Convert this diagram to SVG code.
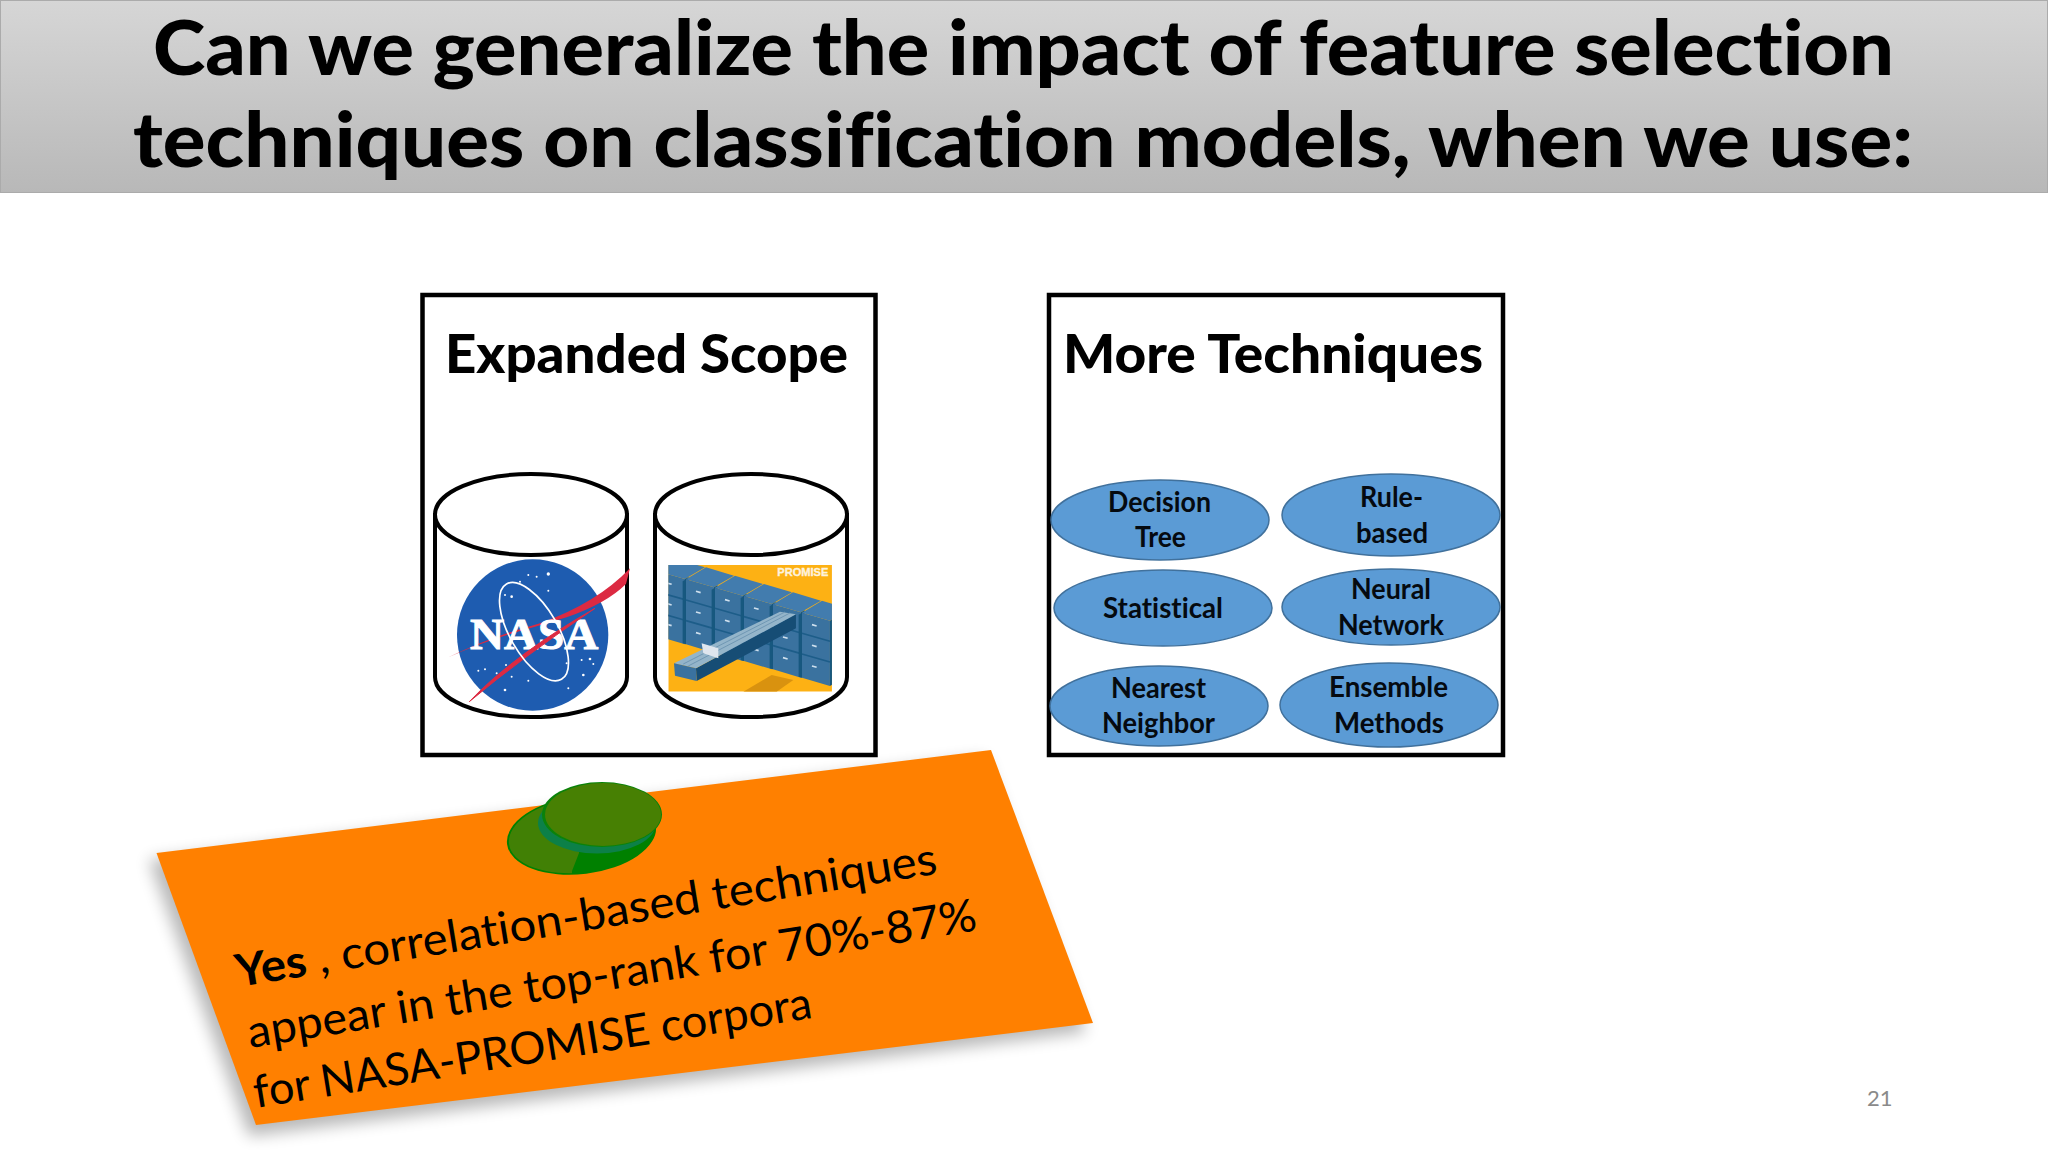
<svg xmlns="http://www.w3.org/2000/svg" width="2048" height="1152" viewBox="0 0 2048 1152">
<style>
text{font-family:"Lato","Open Sans","Liberation Sans",sans-serif;fill:#000;font-variant-ligatures:none}
.title{font-size:76px;font-weight:900}
.head{font-size:53px;font-weight:900}
.e{fill:#5b9bd5;stroke:#41719c;stroke-width:1.5}
.et{font-size:28px;font-weight:700;fill:#050a10}
.box{fill:#fff;stroke:#000;stroke-width:4.5}
.cyl{fill:#fff;stroke:#000;stroke-width:4}
.note{font-size:45px;font-weight:400}
.front{fill:#3a729f}.top{fill:#427cae}.side{fill:#17587f}
</style>
<defs>
<linearGradient id="band" x1="0" y1="0" x2="0" y2="1"><stop offset="0" stop-color="#d6d6d6"/><stop offset="1" stop-color="#b8b8b8"/></linearGradient>
<filter id="blur" x="-10%" y="-20%" width="120%" height="140%"><feGaussianBlur stdDeviation="8"/></filter>
<clipPath id="pic"><rect x="745" y="315" width="491" height="380"/></clipPath>
<clipPath id="pinclip"><ellipse cx="581.5" cy="835" rx="73" ry="37.5" transform="rotate(-7 581.5 835)"/></clipPath>
<g id="cab">
<polygon class="front" points="798,358 882,382 882,578 798,553"/>
<polygon class="top" points="798,358 858,322 942,347 882,382"/>
<polygon class="side" points="882,382 893,376 893,572 882,578"/>
<polygon class="side" points="798,358 788,364 788,550 798,553"/>
<path d="M798,420 L882,444 M798,482 L882,506" stroke="#1d5d89" stroke-width="5" fill="none"/>
<path d="M828,394 l14,4 M828,456 l14,4 M828,518 l14,4" stroke="#cfe0ee" stroke-width="5" fill="none"/>
</g>
</defs>

<rect width="2048" height="1152" fill="#fff"/>

<g id="title-band">
<rect x="0.5" y="0.5" width="2047" height="192" fill="url(#band)" stroke="#ababab"/>
<text class="title" x="153" y="75" textLength="1741" lengthAdjust="spacingAndGlyphs">Can we generalize the impact of feature selection</text>
<text class="title" x="133" y="167" textLength="1780" lengthAdjust="spacingAndGlyphs">techniques on classification models, when we use:</text>
</g>

<g id="expanded-scope">
<rect class="box" x="422.5" y="295" width="453" height="460"/>
<text class="head" x="445" y="373" textLength="403" lengthAdjust="spacingAndGlyphs">Expanded Scope</text>
<g id="cylinder-nasa">
<path class="cyl" d="M435,515 V677 A96,40 0 0 0 627,677 V515 Z"/>
<ellipse class="cyl" cx="531" cy="514.5" rx="96" ry="40.5"/>
<g transform="translate(420,460) scale(0.3333)">
<circle cx="338" cy="525" r="227" fill="#1e5cb0"/>
<g fill="#fff"><circle cx="385" cy="342" r="5"/><circle cx="350" cy="350" r="3"/><circle cx="325" cy="345" r="3"/><circle cx="300" cy="365" r="3"/><circle cx="385" cy="392" r="3"/><circle cx="275" cy="410" r="4"/><circle cx="255" cy="405" r="3"/><circle cx="195" cy="628" r="3"/><circle cx="175" cy="632" r="3"/><circle cx="258" cy="615" r="3"/><circle cx="275" cy="650" r="3"/><circle cx="255" cy="690" r="4"/><circle cx="325" cy="662" r="3"/><circle cx="440" cy="610" r="3"/><circle cx="490" cy="645" r="4"/><circle cx="510" cy="597" r="4"/><circle cx="485" cy="600" r="3"/><circle cx="445" cy="685" r="3"/><circle cx="520" cy="612" r="3"/><circle cx="230" cy="640" r="3"/></g>
<path d="M85,592 Q205,535 300,508 L360,490 Q530,430 630,325 L618,372 Q560,430 440,472 L345,500 Q200,540 85,592 Z" fill="#dc2a42"/>
<text x="150" y="568" textLength="385" lengthAdjust="spacingAndGlyphs" style="font-family:'Liberation Serif',serif;font-weight:700;font-size:136px;fill:#fff;stroke:#fff;stroke-width:3">NASA</text>
<path d="M148,725 Q280,585 525,445 Q310,590 148,725 Z" fill="#dc2a42" stroke="#dc2a42" stroke-width="3"/>
<ellipse cx="342" cy="515" rx="72" ry="165" transform="rotate(-30 342 515)" fill="none" stroke="#fff" stroke-width="5"/>
</g>
</g>
<g id="cylinder-promise">
<path class="cyl" d="M655,515 V677 A96,40 0 0 0 847,677 V515 Z"/>
<ellipse class="cyl" cx="751" cy="514.5" rx="96" ry="40.5"/>
<g transform="translate(420,460) scale(0.3333)">
<g clip-path="url(#pic)">
<rect x="745" y="315" width="491" height="380" fill="#fdb114"/>
<polygon points="970,695 1055,645 1120,660 1070,695" fill="#d9920f"/>
<use href="#cab" x="-87" y="-25"/>
<use href="#cab" x="0" y="0"/>
<use href="#cab" x="87" y="25"/>
<use href="#cab" x="174" y="50"/>
<use href="#cab" x="261" y="75"/>
<use href="#cab" x="348" y="100"/>
<polygon points="828,625 1128,463 1128,505 830,663" fill="#164d75"/>
<polygon points="762,610 1080,455 1128,463 828,625" fill="#94b5ca"/>
<path d="M790,612 L1095,456 M805,618 L1110,459" stroke="#6f97b3" stroke-width="3" fill="none"/>
<polygon points="762,610 828,625 830,663 765,647" fill="#3a729f"/>
<polygon points="845,550 895,565 895,595 850,580" fill="#dfe6ee"/>
</g>
<text x="1072" y="348" textLength="153" lengthAdjust="spacingAndGlyphs" style="font-family:'Liberation Sans',sans-serif;font-weight:700;font-size:30px;fill:#fdf3df;stroke:#fdf3df;stroke-width:1">PROMISE</text>
</g>
</g>
</g>

<g id="more-techniques">
<rect class="box" x="1049" y="295" width="454" height="460"/>
<text class="head" x="1063" y="373" textLength="420" lengthAdjust="spacingAndGlyphs">More Techniques</text>
<g id="decision-tree"><ellipse class="e" cx="1160" cy="520" rx="109" ry="40"/>
<text class="et" x="1108" y="512" textLength="103" lengthAdjust="spacingAndGlyphs">Decision</text><text class="et" x="1135" y="547" textLength="51" lengthAdjust="spacingAndGlyphs">Tree</text></g>
<g id="rule-based"><ellipse class="e" cx="1391" cy="515" rx="109" ry="41"/>
<text class="et" x="1360" y="507" textLength="63" lengthAdjust="spacingAndGlyphs">Rule-</text><text class="et" x="1356" y="543" textLength="72" lengthAdjust="spacingAndGlyphs">based</text></g>
<g id="statistical"><ellipse class="e" cx="1163" cy="608" rx="109" ry="38"/>
<text class="et" x="1103" y="618" textLength="120" lengthAdjust="spacingAndGlyphs">Statistical</text></g>
<g id="neural-network"><ellipse class="e" cx="1391" cy="607" rx="109" ry="38"/>
<text class="et" x="1351" y="599" textLength="80" lengthAdjust="spacingAndGlyphs">Neural</text><text class="et" x="1338" y="635" textLength="106" lengthAdjust="spacingAndGlyphs">Network</text></g>
<g id="nearest-neighbor"><ellipse class="e" cx="1159" cy="706" rx="109" ry="40"/>
<text class="et" x="1111" y="698" textLength="95" lengthAdjust="spacingAndGlyphs">Nearest</text><text class="et" x="1102" y="733" textLength="113" lengthAdjust="spacingAndGlyphs">Neighbor</text></g>
<g id="ensemble-methods"><ellipse class="e" cx="1389" cy="705" rx="109" ry="42"/>
<text class="et" x="1329" y="697" textLength="119" lengthAdjust="spacingAndGlyphs">Ensemble</text><text class="et" x="1334" y="733" textLength="110" lengthAdjust="spacingAndGlyphs">Methods</text></g>
</g>

<g id="note">
<polygon points="149,860 984,758 1086,1032 249,1136" fill="#000" opacity="0.28" filter="url(#blur)"/>
<polygon points="156.5,853 991,750 1093,1023 256,1125" fill="#ff8000"/>
<g id="pin">
<ellipse cx="581.5" cy="835" rx="75" ry="39" transform="rotate(-7 581.5 835)" fill="#008000"/>
<g clip-path="url(#pinclip)">
<polygon points="500,788 582,788 579,853 572,871 572,878 500,878" fill="#418005"/>
<ellipse cx="597" cy="823" rx="59" ry="30.5" fill="#0c8048"/>
</g>
<ellipse cx="602" cy="814.5" rx="60" ry="32.5" fill="#0a820a"/>
<ellipse cx="603" cy="814.5" rx="58" ry="31.5" fill="#478003"/>
</g>
<text class="note" x="238" y="987" transform="rotate(-9.2 238 987)" textLength="710" lengthAdjust="spacingAndGlyphs"><tspan font-weight="700">Yes</tspan> , correlation-based techniques</text>
<text class="note" x="250" y="1048" transform="rotate(-9.2 250 1048)" textLength="738" lengthAdjust="spacingAndGlyphs">appear in the top-rank for 70%-87%</text>
<text class="note" x="256" y="1108" transform="rotate(-9.2 256 1108)" textLength="565" lengthAdjust="spacingAndGlyphs">for NASA-PROMISE corpora</text>
</g>

<text id="page-number" x="1867" y="1106" style="font-size:22px;fill:#8a8a8a">21</text>
</svg>
